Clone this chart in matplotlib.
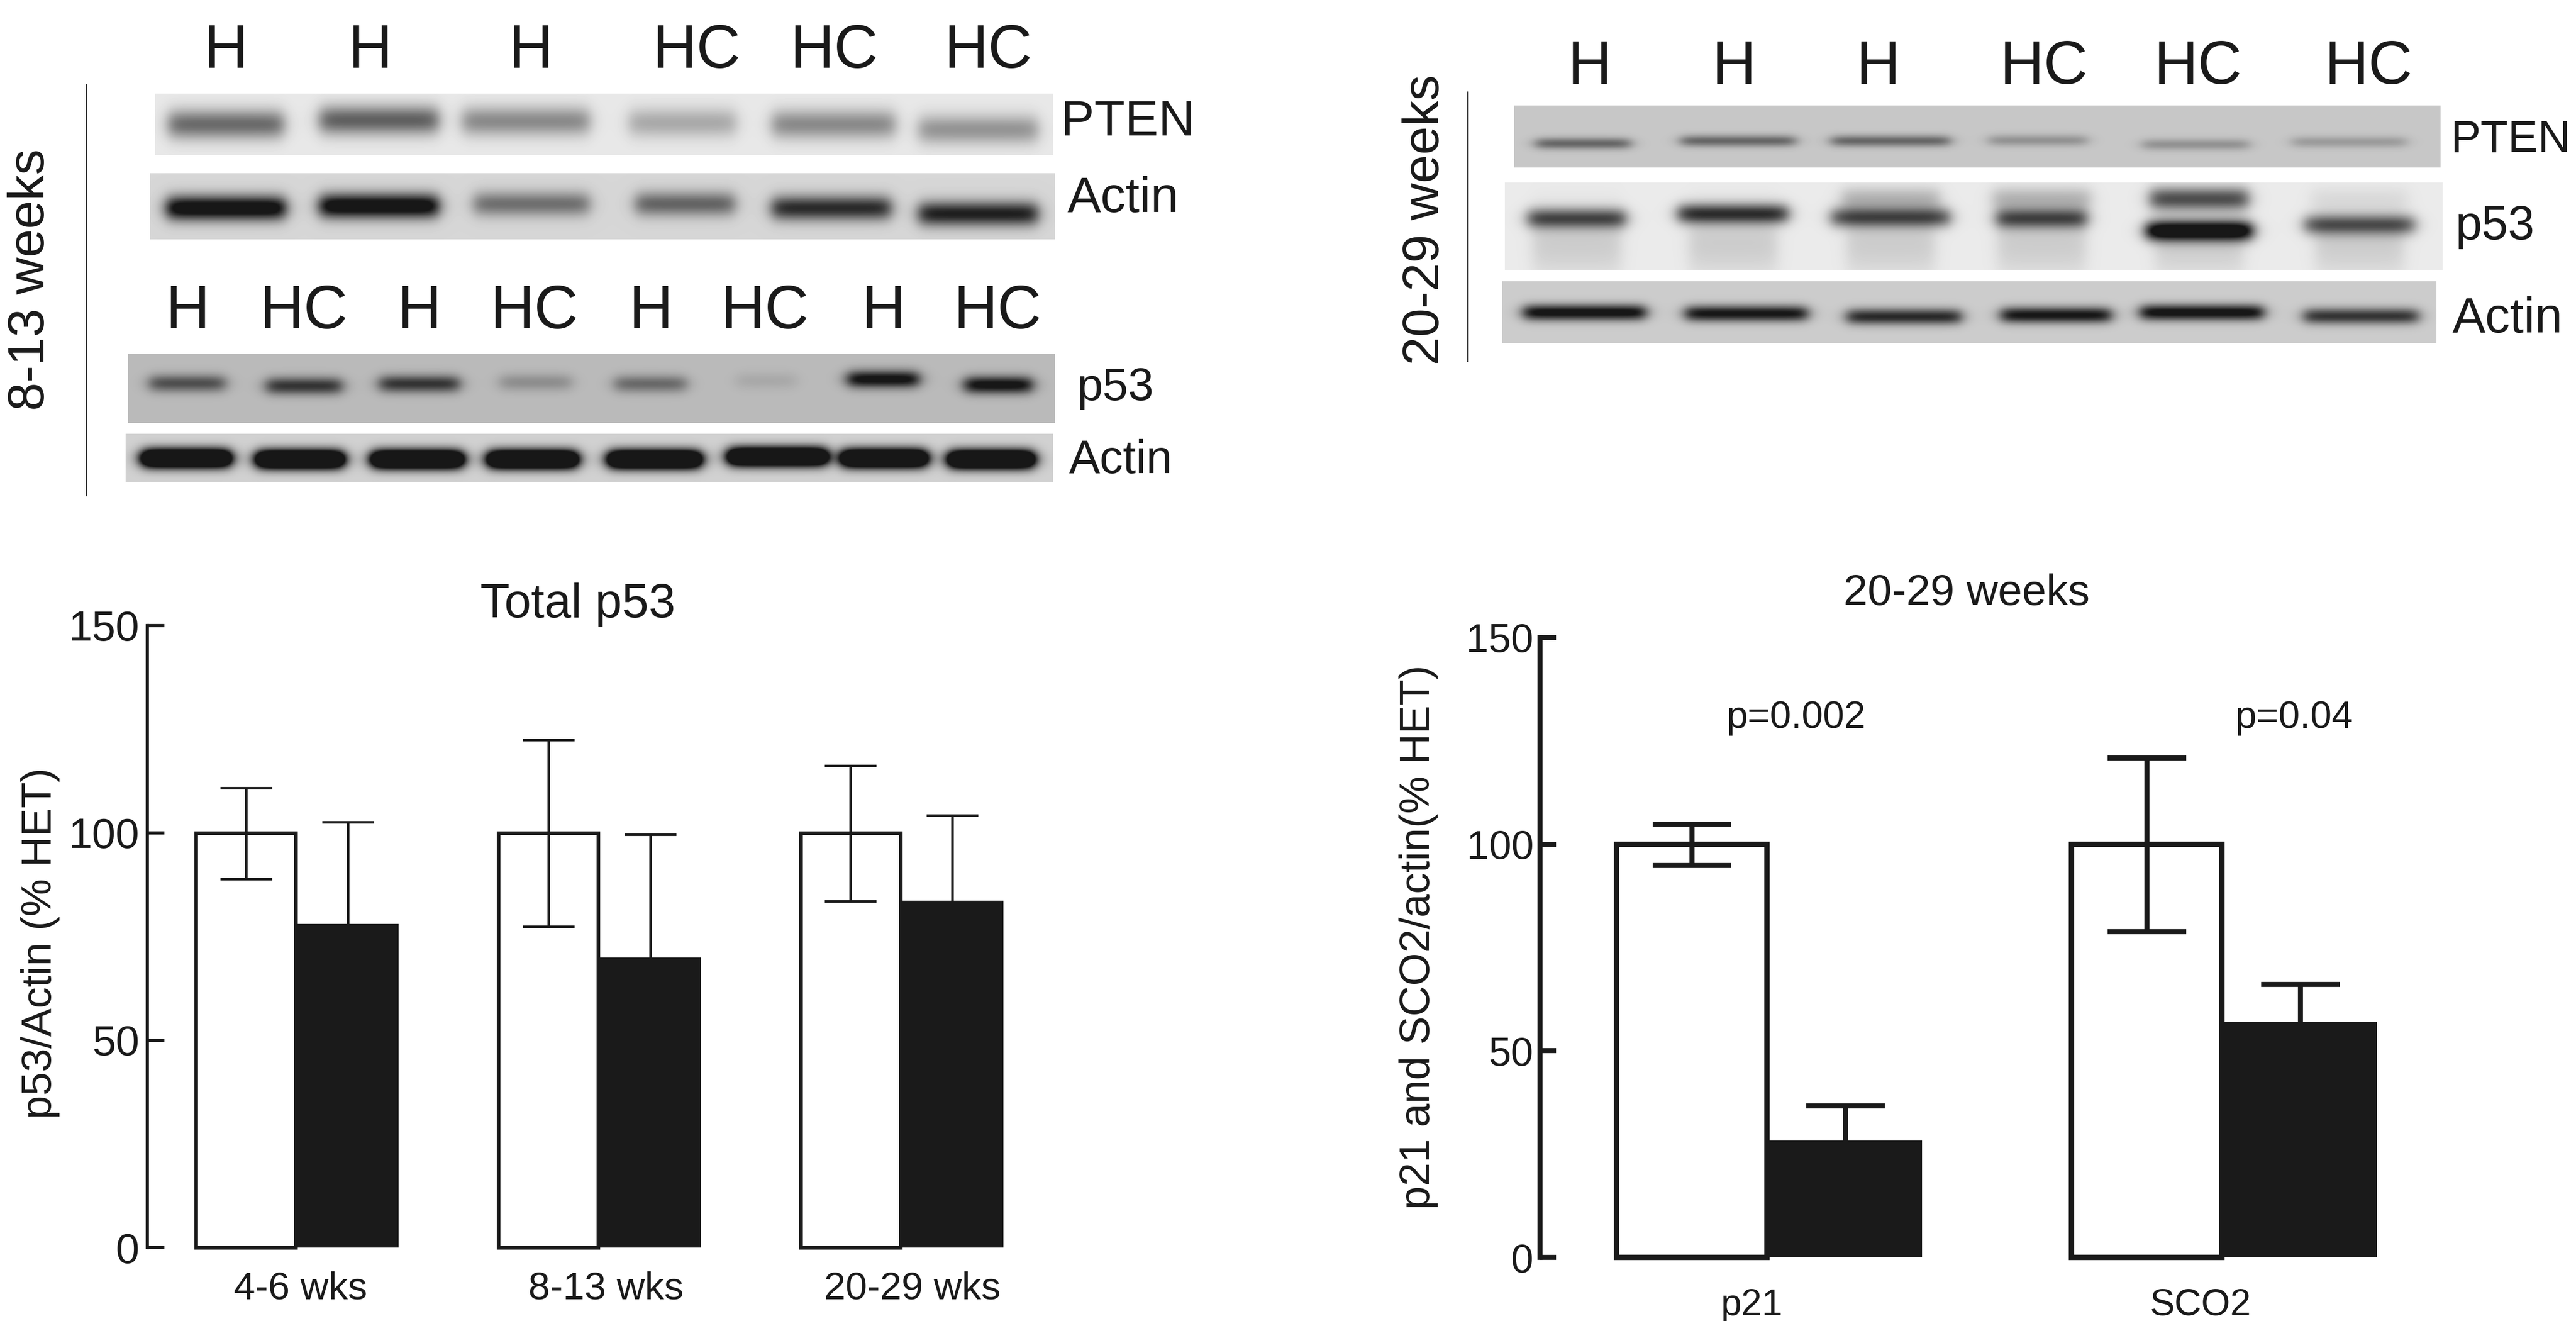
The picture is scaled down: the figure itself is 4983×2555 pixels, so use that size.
import numpy as np
import matplotlib
matplotlib.use("Agg")
import matplotlib.pyplot as plt

W, H = 4983, 2555
DPI = 100
plt.rcParams['font.family'] = ['Liberation Sans', 'DejaVu Sans']
INK = '#1a1a1a'

# bar charts
weeks = ['4-6 wks', '8-13 wks', '20-29 wks']
p53_het = [100, 100, 100]
p53_het_hi = [110.9, 122.4, 116.2]
p53_het_lo = [88.9, 77.4, 83.6]
p53_hc = [78, 70, 83.7]
p53_hc_hi = [102.6, 99.6, 104.2]

genes = ['p21', 'SCO2']
gene_het = [100, 100]
gene_het_hi = [104.8, 120.8]
gene_het_lo = [94.8, 78.8]
gene_hc = [28.3, 57]
gene_hc_hi = [36.7, 66.1]
p_values = ['p=0.002', 'p=0.04']
y_ticks = [0, 50, 100, 150]

# blot band strengths, one per lane
labels_6 = ['H', 'H', 'H', 'HC', 'HC', 'HC']
labels_8 = ['H', 'HC', 'H', 'HC', 'H', 'HC', 'H', 'HC']
pten_8wk = [.6, .65, .45, .3, .45, .4]
actin_8wk = [1, 1, .45, .5, .75, .8]
p53_8wk = [.6, .75, .75, .25, .45, .1, 1, 1]
actin2_8wk = [1, 1, 1, 1, 1, 1, 1, 1]
pten_20wk = [.55, .55, .55, .3, .3, .25]
p53_20wk = [.6, .7, .6, .6, 1, .55]
p53_upper_20wk = [0, 0, .2, .2, .6, .05]
actin_20wk = [.9, .85, .75, .85, .9, .7]


def fs(px):
    return px * 72 / DPI


def blot(ax, box, bg, xs, ws, ys, dark, sigma, gain=1.0, extra=None):
    x0, x1, y0, y1 = box
    gx = np.arange(x0, x1)
    gy = np.arange(y0, y1)
    d = np.zeros((len(gy), len(gx)))
    bands = list(zip(xs, ws, ys, dark, [sigma] * len(xs)))
    if extra:
        bands += extra
    for cx, w, cy, k, s in bands:
        px = 0.5 * (np.tanh((gx - cx + w / 2) / 16) - np.tanh((gx - cx - w / 2) / 16))
        py = np.exp(-0.5 * ((gy - cy) / s) ** 2)
        d += k * np.outer(py, px)
    d = np.clip(d * gain, 0, 1)
    img = bg * (1 - d) + 0.09 * d
    ax.imshow(img, cmap='gray', vmin=0, vmax=1, extent=(x0, x1, y1, y0),
              aspect='auto', interpolation='bilinear')


fig = plt.figure(figsize=(W / DPI, H / DPI), dpi=DPI, facecolor='white')
ax0 = fig.add_axes([0, 0, 1, 1])

# left blots
xs = [437, 733, 1017, 1320, 1612, 1892]
blot(ax0, (300, 2037, 181, 300), .91, xs, [223, 230, 246, 207, 238, 230],
     [240, 232, 234, 237, 240, 250], pten_8wk, 20)
blot(ax0, (290, 2041, 335, 463), .84, [437, 733, 1028, 1325, 1608, 1892],
     [230, 230, 223, 192, 230, 230], [402, 398, 394, 394, 402, 413], actin_8wk, 17, 1.2)
xs8 = [362, 588, 811, 1036, 1258, 1482, 1708, 1931]
blot(ax0, (248, 2041, 684, 818), .73, xs8, [146, 146, 154, 138, 138, 115, 138, 130],
     [741, 746, 742, 739, 742, 736, 733, 744], p53_8wk, 12, 1.1)
blot(ax0, (243, 2037, 839, 932), .82, [360, 580, 807, 1030, 1266, 1504, 1710, 1917],
     [172, 169, 177, 174, 180, 192, 166, 166], [886, 888, 888, 888, 888, 883, 886, 888],
     actin2_8wk, 13, 2.2)

# right blots
xr = [3050, 3352, 3657, 3949, 4254, 4564]
blot(ax0, (2929, 4721, 204, 324), .78, [3062, 3362, 3657, 3942, 4247, 4544],
     [183, 221, 229, 190, 206, 221], [277, 272, 272, 271, 279, 274], pten_20wk, 8)
extra = [(x, 190, 384, k, 16) for x, k in zip(xr, p53_upper_20wk)]
extra += [(x, 170, 470, .12, 45) for x in xr]
blot(ax0, (2911, 4725, 353, 522), .92, xr, [190, 213, 229, 175, 206, 213],
     [422, 413, 420, 422, 446, 434], p53_20wk, 14, 1.2, extra)
blot(ax0, (2906, 4713, 544, 664), .8, [3065, 3378, 3683, 3977, 4259, 4567],
     [236, 236, 221, 213, 238, 221], [604, 606, 612, 609, 604, 611], actin_20wk, 11, 1.2)

ax0.set_xlim(0, W)
ax0.set_ylim(H, 0)
ax0.axis('off')


def label(x, y, s, px, ha='center', rot=0, va='baseline'):
    ax0.text(x, y, s, fontsize=fs(px), ha=ha, va=va, rotation=rot, color=INK)


for x, s in zip([437, 716, 1027, 1347, 1613, 1911], labels_6):
    label(x, 131, s, 118)
for x, s in zip([363, 587, 811, 1034, 1259, 1480, 1709, 1929], labels_8):
    label(x, 635, s, 118)
for x, s in zip([3075, 3354, 3633, 3953, 4252, 4582], labels_6):
    label(x, 162, s, 118)

label(2052, 262, 'PTEN', 97, 'left')
label(2065, 410, 'Actin', 97, 'left')
label(2083, 774, 'p53', 89, 'left')
label(2068, 915, 'Actin', 90, 'left')
label(4741, 294, 'PTEN', 87, 'left')
label(4749, 463, 'p53', 92, 'left')
label(4744, 643, 'Actin', 96, 'left')

label(60, 541, '8-13 weeks', 99, rot=90, va='center')
label(2758, 425, '20-29 weeks', 99, rot=90, va='center')
ax0.plot([167, 167], [164, 958], color='#333333', lw=2.2)
ax0.plot([2839, 2839], [178, 698], color='#333333', lw=2.2)

label(1118, 1194, 'Total p53', 93)
label(3804, 1170, '20-29 weeks', 84)
label(78, 1824, 'p53/Actin (% HET)', 82, rot=90, va='center')
label(2744, 1813, 'p21 and SCO2/actin(% HET)', 82, rot=90, va='center')
for x, s in zip([3474, 4437], p_values):
    label(x, 1408, s, 74)


def bars(box, group0, step, bar_w, names, het, het_hi, het_lo, hc, hc_hi,
         edge, spine_w, err_w, cap_w, tick_len, tick_px, pad, name_shift, name_px, name_pad):
    x0, x1, y0, y1 = box
    ax = fig.add_axes([x0 / W, 1 - y1 / H, (x1 - x0) / W, (y1 - y0) / H])
    ax.patch.set_alpha(0)
    g = np.arange(len(names))
    w = bar_w / step
    het = np.array(het)
    hc = np.array(hc)
    ax.bar(g - w / 2, het, w * .98, color='white', edgecolor=INK, linewidth=edge,
           clip_on=False, zorder=1)
    # black bars only have the upper whisker, so no cap at the bar top
    ax.vlines(g + w / 2, hc, hc_hi, color=INK, linewidth=err_w, zorder=2)
    ax.plot(g + w / 2, hc_hi, linestyle='none', marker='_', color=INK,
            markersize=2 * cap_w, markeredgewidth=err_w, zorder=2)
    ax.bar(g + w / 2, hc, w, color=INK, linewidth=0, clip_on=False, zorder=3)
    ax.errorbar(g - w / 2, het, yerr=[het - np.array(het_lo), np.array(het_hi) - het], fmt='none',
                ecolor=INK, elinewidth=err_w, capsize=cap_w, capthick=err_w, zorder=4)
    ax.set_xlim((x0 - group0) / step, (x1 - group0) / step)
    ax.set_ylim(0, 150)
    ax.set_yticks(y_ticks)
    ax.tick_params(axis='y', direction='in', length=tick_len, width=spine_w, pad=pad,
                   labelsize=fs(tick_px), colors=INK)
    ax.set_xticks(g + np.array(name_shift))
    ax.set_xticklabels(names, fontsize=fs(name_px), color=INK)
    ax.tick_params(axis='x', length=0, pad=name_pad)
    for s in ['top', 'right', 'bottom']:
        ax.spines[s].set_visible(False)
    ax.spines['left'].set_linewidth(spine_w)
    ax.spines['left'].set_color(INK)
    return ax


bars((285, 2000, 1210, 2413), 574, 585, 197, weeks, p53_het, p53_het_hi, p53_het_lo,
     p53_hc, p53_hc_hi, 5, 4.5, 3.5, 36, 24, 82, 11, [.012, .022, .035], 75, 33)
bars((2979, 4700, 1233, 2432), 3421, 880, 297, genes, gene_het, gene_het_hi, gene_het_lo,
     gene_hc, gene_hc_hi, 7.5, 7, 7, 55, 22, 78, 9, [-.037, -.05], 72, 43)

fig.savefig('out.png', dpi=DPI)
